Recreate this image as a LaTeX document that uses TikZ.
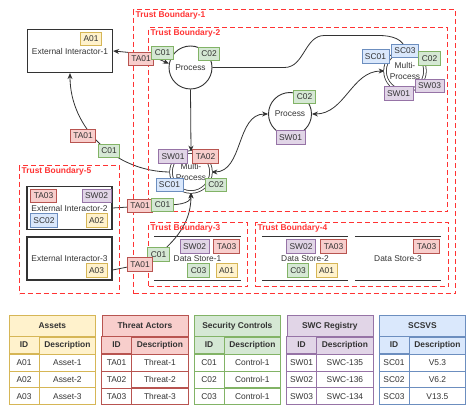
\documentclass[tikz,border=0pt]{standalone}
\usepackage{fontspec}
\setmainfont{Liberation Sans}
\usetikzlibrary{positioning,matrix,backgrounds,arrows.meta}

\definecolor{tbred}{HTML}{FF3333}
\definecolor{asline}{HTML}{D6B656}
\definecolor{asfill}{HTML}{FFF2CC}
\definecolor{taline}{HTML}{B85450}
\definecolor{tafill}{HTML}{F8CECC}
\definecolor{coline}{HTML}{82B366}
\definecolor{cofill}{HTML}{D5E8D4}
\definecolor{swline}{HTML}{9673A6}
\definecolor{swfill}{HTML}{E1D5E7}
\definecolor{scline}{HTML}{6C8EBF}
\definecolor{scfill}{HTML}{DAE8FC}
\definecolor{ink}{HTML}{333333}

\newcommand{\dfdfont}{\fontsize{8.4}{10}\selectfont}

\tikzstyle{boundary} = [draw=tbred, line width=1.3pt, dash pattern=on 5pt off 3pt, anchor=north west]
\tikzstyle{tblabel}  = [text=tbred, font=\dfdfont\bfseries, anchor=north west, inner sep=2.5pt]
\tikzstyle{entity}   = [draw=ink, line width=1.2pt, minimum width=85pt, minimum height=43pt]
\tikzstyle{proc}     = [circle, draw=ink, line width=0.9pt, fill=white, minimum size=43pt, inner sep=0pt]
\tikzstyle{mproc}    = [circle, draw=ink, line width=0.8pt, double=white, double distance=1.8pt, fill=white, minimum size=40pt, inner sep=0pt, align=center, font=\fontsize{8.4}{11}\selectfont]
\tikzstyle{store}    = [minimum width=86pt, minimum height=43pt]
\tikzstyle{tag}      = [draw, line width=0.8pt, inner xsep=3pt, inner ysep=0pt, minimum height=13.5pt]
\tikzstyle{asset}    = [tag, draw=asline, fill=asfill]
\tikzstyle{threat}   = [tag, draw=taline, fill=tafill]
\tikzstyle{ctrl}     = [tag, draw=coline, fill=cofill]
\tikzstyle{swc}      = [tag, draw=swline, fill=swfill]
\tikzstyle{scsvs}    = [tag, draw=scline, fill=scfill]
\tikzstyle{link}     = [draw=ink, line width=0.8pt, >={Stealth[length=6pt,width=5pt]}]

\begin{document}
\begin{tikzpicture}[x=1pt, y=-1pt, font=\dfdfont, text=ink,
		tbl/.style 2 args={matrix of nodes, inner sep=0pt, column sep=-0.8pt, row sep=-0.8pt,
				nodes={draw=#1, line width=0.8pt, fill=white, minimum height=16.8pt, inner sep=0pt},
				column 1/.style={nodes={minimum width=30pt}},
				column 2/.style={nodes={minimum width=56.8pt}},
				row 1/.style={nodes={fill=#2, font=\dfdfont\bfseries}},
			},
		tbltitle/.style 2 args={draw=#1, line width=0.8pt, fill=#2, font=\dfdfont\bfseries, minimum width=86pt, minimum height=21pt, anchor=north west}]

		\useasboundingbox (0,0) rectangle (474,409);

		% trust boundaries
		\node[boundary, minimum width=322pt, minimum height=284pt] (tb1) at (133,9) {};
		\node[tblabel] (tb1l) at (tb1.north west) {Trust Boundary-1};
		\node[boundary, minimum width=299pt, minimum height=184pt] (tb2) at (148,27) {};
		\node[tblabel] (tb2l) at (tb2.north west) {Trust Boundary-2};
		\node[boundary, minimum width=99pt, minimum height=64pt] (tb3) at (148,222) {};
		\node[tblabel] (tb3l) at (tb3.north west) {Trust Boundary-3};
		\node[boundary, minimum width=193pt, minimum height=64pt] (tb4) at (255,222) {};
		\node[tblabel] (tb4l) at (tb4.north west) {Trust Boundary-4};
		\node[boundary, minimum width=100pt, minimum height=128pt] (tb5) at (19,165) {};
		\node[tblabel] (tb5l) at (tb5.north west) {Trust Boundary-5};

		% elements
		\node[entity] (ei1) at (70,51) {External Interactor-1};
		\node[entity] (ei2) at (69.5,208) {External Interactor-2};
		\node[entity] (ei3) at (69.5,258.5) {External Interactor-3};

		\node[proc] (p1) at (190.5,67.5) {Process};
		\node[proc] (p2) at (290,114) {Process};
		\node[mproc] (mp1) at (405,71) {Multi-\\Process};
		\node[mproc] (mp2) at (191,172) {Multi-\\Process};

		\node[store] (ds1) at (197.5,258.5) {Data Store-1};
		\node[store] (ds2) at (305,258.5) {Data Store-2};
		\node[store] (ds3) at (398,258.5) {Data Store-3};
		\foreach \d in {ds1,ds2,ds3}
		\draw[ink, line width=1.2pt] (\d.north west) -- (\d.north east) (\d.south west) -- (\d.south east);

		% tags
		\node[asset] (e1a01) at (91,39) {A01};
		\node[threat] (e2ta03) at (43.5,196) {TA03};
		\node[swc] (e2sw02) at (96.5,196) {SW02};
		\node[scsvs] (e2sc02) at (44,220.5) {SC02};
		\node[asset] (e2a02) at (96.5,220.5) {A02};
		\node[asset] (e3a03) at (96.5,270.5) {A03};

		\node[threat] (c1ta01) at (141,59) {TA01};
		\node[ctrl] (c1c01) at (162.5,53) {C01};
		\node[ctrl] (p1c02) at (209,54) {C02};

		\node[scsvs] (mp1sc01) at (375.5,56.5) {SC01};
		\node[scsvs] (mp1sc03) at (405,51) {SC03};
		\node[ctrl] (mp1c02) at (429.5,58.5) {C02};
		\node[swc] (mp1sw03) at (429.5,86) {SW03};
		\node[swc] (mp1sw01) at (398.5,93.5) {SW01};

		\node[ctrl] (p2c02) at (304.5,97) {C02};
		\node[swc] (p2sw01) at (290.5,137.5) {SW01};

		\node[swc] (mp2sw01) at (173,156.5) {SW01};
		\node[threat] (mp2ta02) at (205.5,156.5) {TA02};
		\node[scsvs] (mp2sc01) at (169.5,185) {SC01};
		\node[ctrl] (mp2c02) at (216,185) {C02};

		\node[threat] (c5ta01) at (83,136) {TA01};
		\node[ctrl] (c5c01) at (109,151) {C01};
		\node[threat] (c2ta01) at (140,206) {TA01};
		\node[ctrl] (c2c01) at (162.5,205) {C01};
		\node[ctrl] (c3c01) at (158.5,254.5) {C01};
		\node[threat] (c3ta01) at (140,264.5) {TA01};

		\node[swc] (d1sw02) at (194.5,246.5) {SW02};
		\node[threat] (d1ta03) at (226.5,246.5) {TA03};
		\node[ctrl] (d1c03) at (198.5,270.5) {C03};
		\node[asset] (d1a01) at (226.5,270.5) {A01};
		\node[swc] (d2sw02) at (301,246.5) {SW02};
		\node[threat] (d2ta03) at (333.5,246.5) {TA03};
		\node[ctrl] (d2c03) at (298,270.5) {C03};
		\node[asset] (d2a01) at (326.5,270.5) {A01};
		\node[threat] (d3ta03) at (426.5,246.5) {TA03};

		% data flows
		\begin{pgfonlayer}{background}
			\draw[link,<->] (ei1.east) to[out=-5,in=155] (p1.170);
			\draw[link] (p1.east) -- ++(72,0) to[out=0,in=180] ++(40,-32) -- ++(55,0) to[out=0,in=90] (mp1.north);
			\draw[link,->] (p1.south) -- (mp2.north);
			\draw[link,<->] (p2.east) to[out=0,in=180] (mp1.west);
			\draw[link,<->] (mp2.east) to[out=0,in=180] (p2.west);
			\draw[link,->] (mp2.west) to[out=180,in=-90] (ei1.south);
			\draw[link,->] (ei2.east) -- (c2c01.center) to[out=0,in=-90] (mp2.south);
			\draw[link,->] ([yshift=-11.5pt]ei3.east) -- (c3ta01.center) -- (c3c01.center) to[out=40,in=-90] (mp2.south);
		\end{pgfonlayer}

		% tables
		\node[tbltitle={asline}{asfill}] (assets) at (9,315) {Assets};
		\matrix[tbl={asline}{asfill}, below=-0.8pt of assets] (assetstab) {
			ID  & Description \\
			A01 & Asset-1     \\
			A02 & Asset-2     \\
			A03 & Asset-3     \\
		};
		\node[tbltitle={taline}{tafill}] (threats) at (101.5,315) {Threat Actors};
		\matrix[tbl={taline}{tafill}, below=-0.8pt of threats] (threatstab) {
			ID   & Description \\
			TA01 & Threat-1    \\
			TA02 & Threat-2    \\
			TA03 & Threat-3    \\
		};
		\node[tbltitle={coline}{cofill}] (controls) at (194,315) {Security Controls};
		\matrix[tbl={coline}{cofill}, below=-0.8pt of controls] (controlstab) {
			ID  & Description \\
			C01 & Control-1   \\
			C02 & Control-1   \\
			C03 & Control-1   \\
		};
		\node[tbltitle={swline}{swfill}] (registry) at (286.5,315) {SWC Registry};
		\matrix[tbl={swline}{swfill}, below=-0.8pt of registry] (registrytab) {
			ID   & Description \\
			SW01 & SWC-135     \\
			SW02 & SWC-136     \\
			SW03 & SWC-134     \\
		};
		\node[tbltitle={scline}{scfill}] (scsvs) at (379,315) {SCSVS};
		\matrix[tbl={scline}{scfill}, below=-0.8pt of scsvs] (scsvstab) {
			ID   & Description \\
			SC01 & V5.3        \\
			SC02 & V6.2        \\
			SC03 & V13.5       \\
		};
	\end{tikzpicture}
\end{document}
